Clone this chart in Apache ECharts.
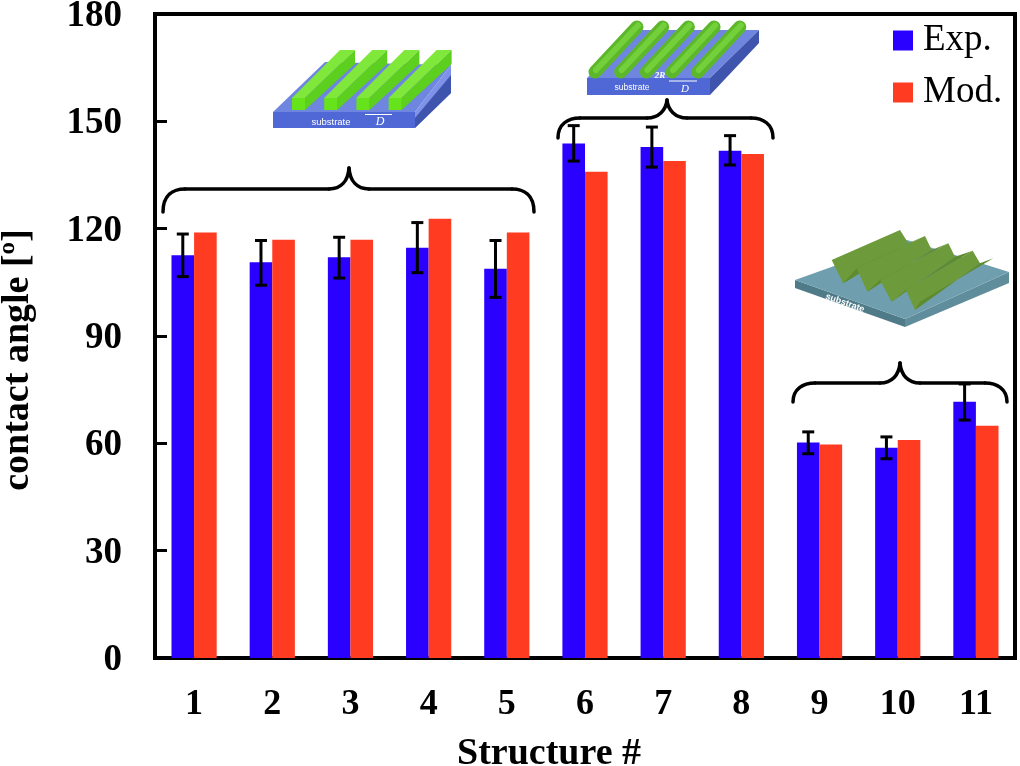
<!DOCTYPE html>
<html><head><meta charset="utf-8">
<style>html,body{margin:0;padding:0;background:#fff}#c{width:1020px;height:766px}</style>
<script src="https://cdn.jsdelivr.net/npm/echarts@6/dist/echarts.min.js"></script>
</head><body><div id="c"></div>
<script>
const categories=['1','2','3','4','5','6','7','8','9','10','11'];
const expValues=[112.6,110.6,112,114.7,108.8,143.8,142.8,141.8,60.2,58.8,71.6];
const modValues=[118.9,116.9,116.9,122.8,118.9,135.9,138.9,140.9,59.7,60.9,64.9];
const errLow=[106.6,104.2,106.2,107.7,100.8,138.9,137.2,137.8,57.1,55.7,66.5];
const errHigh=[118.5,116.7,117.6,121.7,116.7,148.8,148.4,146,63.2,61.8,76.6];
const yTicks={min:0,max:180,interval:30};

const F='"Liberation Serif","Times New Roman",serif';
const S='"Liberation Sans",Arial,sans-serif';
const BW=22.6;
const gfx=[];
const poly=(pts,fill,z)=>gfx.push({type:'polygon',silent:true,z:z||20,shape:{points:pts},style:{fill}});
const seg=(x1,y1,x2,y2,style,z)=>gfx.push({type:'line',silent:true,z:z||22,shape:{x1,y1,x2,y2},style});
const brace=(x1,x2,xm,yh,ye,ya)=>{
  const st={fill:'none',stroke:'#000',lineWidth:3.5,lineCap:'round'};
  const curve=(x1,y1,cpx1,cpy1,cpx2,cpy2,x2,y2)=>gfx.push({type:'bezierCurve',silent:true,z:30,shape:{x1,y1,cpx1,cpy1,cpx2,cpy2,x2,y2},style:st});
  curve(x1,ye,x1,yh+6,x1+10,yh,x1+22,yh);
  seg(x1+22,yh,xm-20,yh,st,30);
  curve(xm-20,yh,xm-8,yh,xm-1,yh-8,xm,ya);
  curve(xm,ya,xm+1,yh-8,xm+8,yh,xm+20,yh);
  seg(xm+20,yh,x2-22,yh,st,30);
  curve(x2-22,yh,x2-10,yh,x2,yh+6,x2,ye);
};
const label=(t,x,y,font,rotation)=>gfx.push({type:'text',silent:true,z:40,x,y,rotation:rotation||0,style:{text:t,fill:'#fff',font,textAlign:'center',textVerticalAlign:'middle'}});

// inset 1: rectangular ridges
poly([[273,112],[325,62],[451,65],[415,112]],'#6f86e0');
poly([[415,112],[451,65],[451,93],[415,128]],'#7e92e8');
poly([[415,128],[451,93],[451,75],[415,118]],'#3f55ad');
poly([[273,112],[415,112],[415,128],[273,128]],'#4f68d6');
[0,1,2,3].forEach(i=>{const d=32.2*i;
  poly([[292+d,98],[305+d,98],[355+d,50],[340+d,50]],'#7fe83a',21);
  poly([[305+d,98],[355+d,50],[355+d,64],[305+d,110]],'#5ccf1f',21);
  poly([[292+d,98],[305+d,98],[305+d,110],[292+d,110]],'#66e31a',21);
});
label('substrate',331,122,`9.5px ${S}`);
label('D',380,122,`italic 12px ${F}`);
seg(365,114.5,392,114.5,{stroke:'#fff',lineWidth:1});

// inset 2: cylinders
poly([[587,78],[637,30],[759,30],[710,78]],'#6f86e0');
poly([[710,78],[759,30],[759,43],[710,95]],'#3f55ad');
poly([[587,78],[710,78],[710,95],[587,95]],'#4f68d6');
[0,1,2,3,4].forEach(i=>{const a=595+25.7*i,b=637+25.7*i;
  seg(a,72,b,27,{stroke:'#5cb82a',lineWidth:13,lineCap:'round'},21);
  seg(a+1,70,b+1,25.5,{stroke:'#74d03a',lineWidth:6,lineCap:'round'},21);
});
label('substrate',632,88,`8.5px ${S}`);
label('D',685,89,`italic 11px ${F}`);
label('2R',660,76,`italic bold 9px ${F}`);
seg(669,81,697,81,{stroke:'#fff',lineWidth:1});

// inset 3: waves
const w=(zx,zy)=>[780+zx/3,230+zy/3];
poly([[795,280],[905,319],[905,327],[795,288]],'#4f7a88');
poly([[905,319],[1009,272],[1009,283],[905,327]],'#5f8d9b');
poly([[795,280],[907,240],[1009,272],[905,319]],'#6f9fae');
const crestF=[[155,90],[230,115],[300,150],[378,180]];
const crestB=[[360,0],[435,18],[505,40],[578,62]];
const troughF=[[190,160],[262,185],[335,215],[405,240]];
const troughB=[[385,40],[455,60],[525,80],[600,100]];
crestF.forEach((cf,i)=>{
  poly([cf,crestB[i],troughB[i],troughF[i]].map(p=>w(p[0],p[1])),'#6d9a3a',21);
  const nf=crestF[i+1]||[420,215], nb=crestB[i+1]||[640,85];
  poly([troughF[i],troughB[i],nb,nf].map(p=>w(p[0],p[1])),'#5e8a30',21);
});
label('substrate',845,303,`bold 9px ${S}`,-0.34);

brace(163,534,349,189,212,168);
brace(558,773,667,118,138,100);
brace(793,1007,900,383,402,363);

const chart=echarts.init(document.getElementById('c'),null,{renderer:'canvas'});
chart.setOption({
  animation:false,
  backgroundColor:'#fff',
  grid:{left:155,right:5,top:14,bottom:108,containLabel:false,outerBoundsMode:'none',show:true,borderColor:'#000',borderWidth:4,backgroundColor:'transparent'},
  legend:{orient:'vertical',left:893,top:17.5,padding:0,itemWidth:20,itemHeight:20,itemGap:6,icon:'rect',
    data:['Exp.','Mod.'],selectedMode:false,
    textStyle:{fontFamily:F,fontSize:37,color:'#000',lineHeight:36,padding:[10,0,0,5]}},
  xAxis:{type:'category',data:categories,
    axisLine:{show:false},axisTick:{show:false},
    axisLabel:{fontFamily:F,fontWeight:'bold',fontSize:36,color:'#000',margin:29,interval:0},
    name:'Structure #',nameLocation:'middle',nameGap:77,
    nameTextStyle:{fontFamily:F,fontWeight:'bold',fontSize:38,color:'#000',padding:[0,72,0,0]}},
  yAxis:{type:'value',min:yTicks.min,max:yTicks.max,interval:yTicks.interval,
    splitLine:{show:false},
    axisLine:{show:false},
    axisTick:{show:true,inside:true,length:12,lineStyle:{color:'#000',width:3}},
    axisLabel:{fontFamily:F,fontWeight:'bold',fontSize:37,color:'#000',margin:33,verticalAlign:'top',lineHeight:5,showMinLabel:true,showMaxLabel:true},
    name:'contact angle [º]',nameLocation:'middle',nameGap:118,
    nameTextStyle:{fontFamily:F,fontWeight:'bold',fontSize:38,color:'#000',padding:[0,48,0,0]}},
  series:[
    {name:'Exp.',type:'bar',data:expValues,barWidth:BW,barGap:0,itemStyle:{color:'#2a00ff'},z:2},
    {name:'Mod.',type:'bar',data:modValues,barWidth:BW,barGap:0,itemStyle:{color:'#ff3b22'},z:2},
    {name:'err',type:'custom',z:5,
      data:categories.map((c,i)=>[i,errLow[i],errHigh[i]]),
      encode:{x:0,y:[1,2]},
      renderItem:(p,api)=>{
        const lo=api.coord([api.value(0),api.value(1)]);
        const hi=api.coord([api.value(0),api.value(2)]);
        const x=lo[0]-BW/2, c=6;
        const st={stroke:'#000',lineWidth:3,fill:'none'};
        return {type:'group',children:[
          {type:'line',shape:{x1:x,y1:lo[1],x2:x,y2:hi[1]},style:st},
          {type:'line',shape:{x1:x-c,y1:lo[1],x2:x+c,y2:lo[1]},style:st},
          {type:'line',shape:{x1:x-c,y1:hi[1],x2:x+c,y2:hi[1]},style:st}
        ]};
      }}
  ],
  graphic:{elements:gfx}
});
</script></body></html>
